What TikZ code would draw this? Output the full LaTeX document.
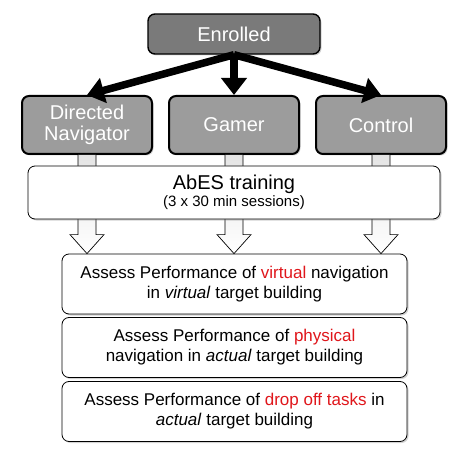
\documentclass[tikz,border=0pt]{standalone}
\usepackage{fontspec}
\setmainfont{Liberation Sans}
\usetikzlibrary{shadows,calc,arrows.meta}

\definecolor{darkbox}{HTML}{7A7A7A}
\definecolor{groupbox}{HTML}{9C9C9C}
\definecolor{flowfill}{HTML}{E4E4E4}
\definecolor{accent}{HTML}{E0161B}
\newcommand{\hl}[1]{\textcolor{accent}{#1}}

\begin{document}
\begin{tikzpicture}[x=1pt, y=-1pt,
    box/.style={draw=black, line width=1.4pt, rounded corners=7pt, align=center, inner sep=0pt,
        drop shadow={shadow xshift=1.5pt, shadow yshift=-1.5pt, opacity=0.35}},
    topbox/.style={box, fill=darkbox, text=white, font=\fontsize{20}{22}\selectfont,
        minimum width=172pt, minimum height=40pt},
    groupbox/.style={box, line width=2pt, fill=groupbox, text=white, font=\fontsize{20}{21}\selectfont,
        minimum width=130pt, minimum height=58pt},
    trainbox/.style={box, line width=0.8pt, fill=white, minimum width=412pt, minimum height=53pt},
    taskbox/.style={box, line width=0.8pt, fill=white, font=\fontsize{17}{20}\selectfont,
        minimum width=345pt, minimum height=60pt},
    split/.style={-{Triangle[length=17pt, width=25pt]}, line width=7.5pt},
    flow/.style={draw=black, line width=0.7pt, top color=flowfill, bottom color=white}]
    \useasboundingbox (0,0) rectangle (474,468);

    % groups
    \node[topbox] (enrolled) at (234,34) {Enrolled};
    \node[groupbox] (navigator) at (87,125) {Directed\\Navigator};
    \node[groupbox] (gamer) at (234,125) {Gamer};
    \node[groupbox] (control) at (381,125) {Control};

    % tasks
    \node[taskbox] (virtual) at (234.5,284) {Assess Performance of \hl{virtual} navigation\\in \textit{virtual} target building};
    \node[taskbox] (physical) at (234.5,347.5) {Assess Performance of \hl{physical}\\navigation in \textit{actual} target building};
    \node[taskbox] (dropoff) at (234.5,411.5) {Assess Performance of \hl{drop off tasks} in\\\textit{actual} target building};

    % block arrows into the first task
    \foreach \g in {navigator, gamer, control}
        \draw[flow] ($(\g.south)+(-9,0)$) -- ($(\g.south |- virtual.north)+(-9,-19)$)
            -- ($(\g.south |- virtual.north)+(-17,-19)$) -- (\g.south |- virtual.north)
            -- ($(\g.south |- virtual.north)+(17,-19)$) -- ($(\g.south |- virtual.north)+(9,-19)$)
            -- ($(\g.south)+(9,0)$);

    \node[trainbox] (training) at (234,192.5) {\fontsize{20}{22}\selectfont AbES training\\[1pt]\fontsize{15}{17}\selectfont(3 x 30 min sessions)};

    \draw[split] (enrolled.south) -- (navigator.north);
    \draw[split] (enrolled.south) -- (gamer.north);
    \draw[split] (enrolled.south) -- (control.north);
\end{tikzpicture}
\end{document}
